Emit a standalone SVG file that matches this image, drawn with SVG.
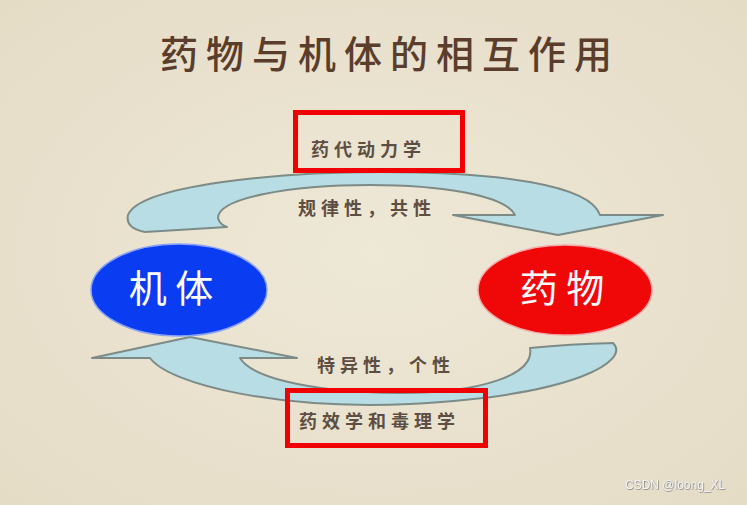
<svg xmlns="http://www.w3.org/2000/svg" width="747" height="505" viewBox="0 0 747 505">
<defs>
<radialGradient id="bg" cx="50%" cy="50%" r="70%">
<stop offset="0" stop-color="#eee8d7"/>
<stop offset="1" stop-color="#e5dcc6"/>
</radialGradient>
<filter id="sh" x="-10%" y="-30%" width="120%" height="160%">
<feDropShadow dx="0.6" dy="0.6" stdDeviation="0.4" flood-color="#6a6a6a"/>
</filter>
</defs>
<style>
.band{fill:#b9dde4;stroke:#7d8b87;stroke-width:2;stroke-linejoin:round}
.box{fill:none;stroke:#f00000;stroke-width:5}
.lbl{font-family:"Noto Sans CJK SC",sans-serif;font-weight:bold;font-size:18px;fill:#5c4e42;dominant-baseline:central;letter-spacing:5px}
.node{font-family:"Noto Sans CJK SC",sans-serif;font-size:38px;fill:#ffffff;dominant-baseline:central;text-anchor:middle}
.title{font-family:"Noto Sans CJK SC",sans-serif;font-weight:500;font-size:38px;fill:#5a3d2b;dominant-baseline:central;letter-spacing:8px}
</style>
<rect width="747" height="505" fill="url(#bg)"/>
<text class="title" x="160" y="51">药物与机体的相互作用</text>
<g id="connectors">
<path class="band" d="M128,215 C140,185 280,172 380,172 C500,172 590,185 600,215 L663,215 L558,235 L453,215 L515,215 C505,195 440,185 370,185 C290,185 218,198 218,218 Q220,225 227,227 L145,232 Q125,228 128,215 Z"/>
<path class="band" d="M613,343 C630,360 580,395 410,404 C280,410 170,385 150,358 L92,358 L190,337 L297,358 L240,358 C250,375 300,392 400,393 C480,393 535,375 530,348 Q570,344 613,343 Z"/>
<text class="lbl" x="298" y="207">规律性，共性</text>
<text class="lbl" x="317" y="364">特异性，个性</text>
</g>
<g id="box-pk">
<rect class="box" x="295.5" y="112.5" width="167" height="58"/>
<text class="lbl" x="311" y="148">药代动力学</text>
</g>
<g id="box-pd">
<rect class="box" x="287.5" y="390.5" width="198" height="55"/>
<text class="lbl" x="299" y="420">药效学和毒理学</text>
</g>
<g id="node-body">
<ellipse cx="179" cy="290" rx="88" ry="46" fill="#0a3cf2" stroke="#8aa2f4" stroke-width="1.5"/>
<text class="node" x="171" y="285">机 体</text>
</g>
<g id="node-drug">
<ellipse cx="565" cy="290" rx="87" ry="45" fill="#f00808" stroke="#f2a8a8" stroke-width="1.5"/>
<text class="node" x="562" y="285">药 物</text>
</g>
<text x="625" y="489" font-family="Liberation Sans, sans-serif" font-size="12" fill="#f6f6f6" filter="url(#sh)">CSDN @loong_XL</text>
</svg>
